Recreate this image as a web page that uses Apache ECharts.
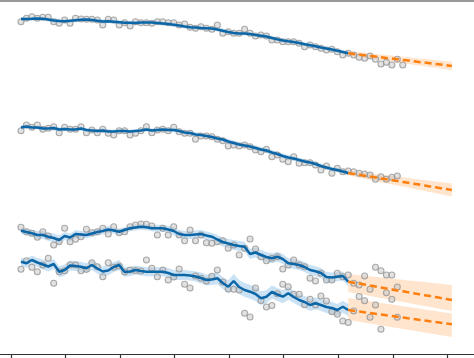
<!DOCTYPE html>
<html><head><meta charset="utf-8">
<script src="https://cdn.jsdelivr.net/npm/echarts@6/dist/echarts.min.js"></script>
<style>html,body{margin:0;padding:0;background:#fff}#c{width:474px;height:358px}</style>
</head><body><div id="c"></div>
<script>
// x = time index (0..79); y = depth-like value (axis inverted)
const tickValues = [-1.83, 8.17, 18.17, 28.17, 38.17, 48.17, 58.17, 68.17, 78.17];
const forecastStart = 60;

// ---- Series 1 ----
const s1Line = [19,19,18.8,18.5,18.8,19.5,20.5,21,21.2,20.8, 20.3,19.8,19.6,20,20.8,21.5,21.3,21.8,22.3,22.8,
  22.8,22.9,22.6,22.4,22.6,23,23.5,24,24.8,25.6, 26.5,27.2,27.6,28,28.3,28.6,29.5,30.8,32,33,
  33.5,33.5,34,35,35.7,36.5,38,39.3,40.5,41.3, 42,43,44.3,45.3,46.3,47.5,48.6,49.5,50.8,52, 53.3];
const s1Half = [2,2,2,1.8,1.8,2,2.2,2.2,2,2, 2,1.8,1.8,1.8,2,2.2,2,2,2,2, 2,1.8,1.8,1.8,1.8,2,2,2,2,2,
  2,2,2,1.8,1.8,1.8,2,2.2,2.2,2, 2,2,1.8,1.8,2,2,2,2,2,1.8, 1.8,1.8,2,2,2,2,2,2,2,2, 2.2];
const s1Obs = [21.7,18.3,16.7,18.3,17.3,17.3,21.7,23.3,20,23.3, 18.3,19,19.3,19.3,20,25,19.3,20,25,22.7,
  26,21.7,22.7,22.7,23.3,21.7,21.7,22.7,22.7,25, 24,27.3,28.3,26.7,28.3,29.3,25,33.3,31.7,33.3,
  33.3,29.3,33.3,36,35,36,40,40,41.7,41.7, 41.7,43.3,46.7,45,46.7,48.3,50,49.3,51.7,55,
  53.3,55,57.3,58.3,56,59.3,64,62.3,65,59.3,65];
const s1Fc = [53.3,54,54.6,55.3,56,56.6,57.3,58,58.6,59.3,60,60.6,61.3,62,62.6,63.3,64,64.6,65.3,66];
const s1FcLo = [51.1,51.7,52.2,52.8,53.4,53.9,54.5,55.1,55.6,56.2,56.8,57.3,57.9,58.5,59,59.6,60.2,60.7,61.3,61.8];
const s1FcHi = [55.5,56.3,57,57.8,58.6,59.3,60.1,60.9,61.6,62.4,63.2,63.9,64.7,65.5,66.2,67,67.8,68.5,69.3,70.2];

// ---- Series 2 ----
const s2Line = [127.5,126.5,127.5,127.5,128.5,128.5,128,129.5,129,129.5, 129.5,128.5,130,130.5,131,130.5,131.5,131.5,131,131,
  131.5,131,130.5,129.5,130.5,130,129.5,130,130,131, 132.5,133,134.5,135,136,137,138.5,139.5,141.5,143,
  144.5,145.5,146.5,148,149.5,150.5,152.5,154,156,157.5, 158.5,160,161.5,162.5,164,166,167.5,169,170,171.5, 173];
const s2Half = [2.2,2.2,2,2,2,2,2.2,2.2,2,2, 2,2,2,2,2,2,2,1.8,1.8,1.8, 1.8,1.8,1.8,2,2,2,2,2,2.2,2.2,
  2.2,2.2,2.2,2.2,2.2,2.2,2.2,2.2,2.4,2.4, 2.4,2.4,2.4,2.4,2.4,2.4,2.4,2.4,2.4,2.4, 2.2,2.2,2.2,2.2,2.2,2.2,2.2,2.2,2.2,2.2, 2.2];
const s2Obs = [130.7,125,127.3,125,129.3,128.3,126.7,132.7,127.3,129.3, 129.3,126.7,132.7,130,132.7,129.3,133.3,135,130.7,130.7,
  135,133.3,130.7,126.7,132.7,130,129.3,130.7,127.3,131.7, 133.3,133.3,139.3,136,136,136.7,139.3,140.7,146,145,
  146,145,146.7,150,151.7,149.3,156.7,155,159.3,161.7, 156.7,163.3,162.7,162.7,165,170,166,173.3,168.3,171.7,
  171,171.7,173.3,174,175,179.3,176.7,179.3,177.3,176];
const s2Fc = [173,173.9,174.8,175.7,176.6,177.5,178.4,179.3,180.2,181.1,181.9,182.8,183.7,184.6,185.5,186.4,187.3,188.2,189.1,190];
const s2FcLo = [170.5,171.2,171.9,172.6,173.3,174,174.6,175.3,176,176.7,177.3,178,178.7,179.4,180.1,180.7,181.4,182.1,182.8,183.5];
const s2FcHi = [175.5,176.6,177.7,178.8,179.9,181.1,182.2,183.3,184.4,185.5,186.5,187.6,188.7,189.8,191,192.1,193.2,194.3,195.4,196.5];

// ---- Series 3 ----
const s3Line = [230.7,232,233.3,235,235,236.7,238,240,236,237.5, 234,234.5,235,233.5,232,231,229.5,230.5,231.7,230,
  228.3,227.5,226.7,227.3,228.3,228.3,228.3,229.5,231,234, 235,235,234.5,234,235.5,236.7,239.5,242,243.5,245,
  246,246.7,254,252.5,255,257,258.3,256.7,259,263.3, 264,265,267,270,271.2,273,277,277.5,276.7,276, 281.7];
const s3Half = [3,3.5,3.5,4,4,4,4.5,4.5,4,4, 4,3.5,3.5,3.5,3.5,3.5,3.5,3,3,3, 3,3,3,3,3,3.5,3.5,3.5,4,4,
  4,4,4,4,4,4,4.5,4.5,4.5,5, 5,5,5,5,5,5,5,5,5,5, 5,5,5,5,5,5,5,5,4.5,4.5, 4.5];
const s3Obs = [227.3,231.7,233.3,237.3,231.7,236,245,241.7,228.3,241.7, 239.3,236.7,229.3,232.7,231.7,228.3,234,226.7,232.7,231.7,
  226.7,225,224,224.3,226,235,228.3,235,226.7,235, 240.7,230,240.7,235,242.7,243.3,241.7,240.7,248.3,245,
  255,248.3,239,249,256.7,260.7,258.3,256.7,269,265, 260,265,266.7,278.3,281,273.3,280,280,273.3,276.7,
  275,283.3,285,276,289.3,267.3,270.7,275,275,287];
const s3Fc = [281.7,282.7,283.6,284.6,285.6,286.5,287.5,288.4,289.4,290.4,291.3,292.3,293.3,294.2,295.2,296.1,297.1,298.1,299,300];
const s3FcLo = [274,274.6,275.2,275.7,276.3,276.9,277.5,278.1,278.6,279.2,279.8,280.4,280.9,281.5,282.1,282.7,283.3,283.8,284.4,285];
const s3FcHi = [292,293,294,295,296,297,298,299,300,301,302,303,304,305,306,307,308,309,310,311];

// ---- Series 4 ----
const s4Line = [261.7,263.3,260,262.5,264.5,266.5,264,271.7,270,265.5, 266,266.7,268.3,265,268.5,271.5,270.5,267,265,272,
  271.5,270,271,271.7,271.7,271.7,271.7,273,275,275, 275,275.5,276.5,278,280,279.5,278.3,283,286.7,281,
  287,290,291.7,294,298.3,296.7,292,294.5,296.7,293.3, 297,300,302,305,303.3,305,307,308,310,306.7, 310];
const s4Half = [4,4.5,4.5,4.5,5,5,5,5.5,5.5,5, 5,5,5,5,5,5,5,5,5,5, 4.5,4.5,4.5,4.5,4.5,4.5,4.5,5,5,5,
  5,5,5,5.5,5.5,5.5,6,6,6.5,7, 7,7,7,7,7,6.5,6.5,6.5,6.5,6.5, 6,6,6,6,6,6,6,6,6,6, 6];
const s4Obs = [269.3,260.7,267.3,271.7,265,258.3,283.3,271.7,270.7,265, 265,270.7,269.3,262.7,266.7,276.7,262.7,267.3,266,272,
  270,270.5,271,260,268.3,276.7,270,280,277,269, 284.2,288,276,278.3,281,276.3,270,282,289,289.2,
  290,313.3,317,288,300.5,307,305.5,293.7,284.2,286.7, 294.2,294.2,304.7,299.3,305,296,301,311.7,314.2,321,
  322.5,311,296.5,300.7,317.3,305,329.3,292.7,299.3,317.3];
const s4Fc = [310,310.8,311.5,312.3,313,313.8,314.5,315.3,316,316.8,317.5,318.3,319,319.8,320.5,321.3,322,322.8,323.5,324.3];
const s4FcLo = [298,298.8,299.6,300.4,301.3,302.1,302.9,303.7,304.5,305.3,306.2,307,307.8,308.6,309.4,310.2,311.1,311.9,312.7,313.5];
const s4FcHi = [320,320.9,321.8,322.7,323.6,324.5,325.4,326.3,327.2,328.1,328.9,329.8,330.7,331.6,332.5,333.4,334.3,335.2,336.1,337];

const BLUE = '#0b66a8', ORANGE = '#ff7f0e';
const BLUE_BAND = 'rgba(70,150,215,0.28)', ORANGE_BAND = 'rgba(255,150,60,0.25)';

function band(lo, hi, x0, color) {
  return {
    type: 'custom', z: 1, silent: true, data: [[0, 0]],
    renderItem: function (params, api) {
      const pts = [];
      for (let k = 0; k < lo.length; k++) pts.push(api.coord([x0 + k, lo[k]]));
      for (let k = hi.length - 1; k >= 0; k--) pts.push(api.coord([x0 + k, hi[k]]));
      return { type: 'polygon', shape: { points: pts }, style: { fill: color } };
    }
  };
}
function pairs(arr, x0) { return arr.map((v, k) => [x0 + k, v]); }

const groups = [
  [s1Line, s1Half, s1Obs, s1Fc, s1FcLo, s1FcHi],
  [s2Line, s2Half, s2Obs, s2Fc, s2FcLo, s2FcHi],
  [s3Line, s3Half, s3Obs, s3Fc, s3FcLo, s3FcHi],
  [s4Line, s4Half, s4Obs, s4Fc, s4FcLo, s4FcHi]
];

const series = [];
groups.forEach(g => {
  const [line, half, obs, fc, fcLo, fcHi] = g;
  series.push(band(line.map((v, k) => v - half[k]), line.map((v, k) => v + half[k]), 0, BLUE_BAND));
  series.push(band(fcLo, fcHi, forecastStart, ORANGE_BAND));
});
groups.forEach(g => {
  series.push({
    type: 'scatter', z: 2, data: pairs(g[2], 0), symbol: 'circle', symbolSize: 6,
    itemStyle: { color: 'rgba(195,195,195,0.6)', borderColor: '#969696', borderWidth: 1.1 }
  });
});
groups.forEach(g => {
  series.push({
    type: 'line', z: 3, data: pairs(g[0], 0), showSymbol: false,
    lineStyle: { color: BLUE, width: 2.5 }
  });
  series.push({
    type: 'line', z: 3, data: pairs(g[3], forecastStart), showSymbol: false,
    lineStyle: { color: ORANGE, width: 2.5, type: [7, 4] }
  });
});

const chart = echarts.init(document.getElementById('c'), null, { renderer: 'canvas' });
chart.setOption({
  animation: false,
  backgroundColor: '#fff',
  grid: { left: 0, right: 0, top: 0, bottom: 4 },
  xAxis: {
    type: 'value', min: -3.85, max: 83.06, position: 'bottom',
    axisLine: { show: true, onZero: false, lineStyle: { color: '#333', width: 1.2 } },
    axisTick: { show: true, length: 5, customValues: tickValues, lineStyle: { color: '#333', width: 1.2 } },
    axisLabel: { show: false }, splitLine: { show: false }
  },
  yAxis: { type: 'value', inverse: true, min: 0, max: 354, show: false, splitLine: { show: false } },
  graphic: [{ type: 'rect', shape: { x: 0, y: 0, width: 474, height: 2 }, style: { fill: '#999' }, silent: true }],
  series: series
});
</script>
</body></html>
